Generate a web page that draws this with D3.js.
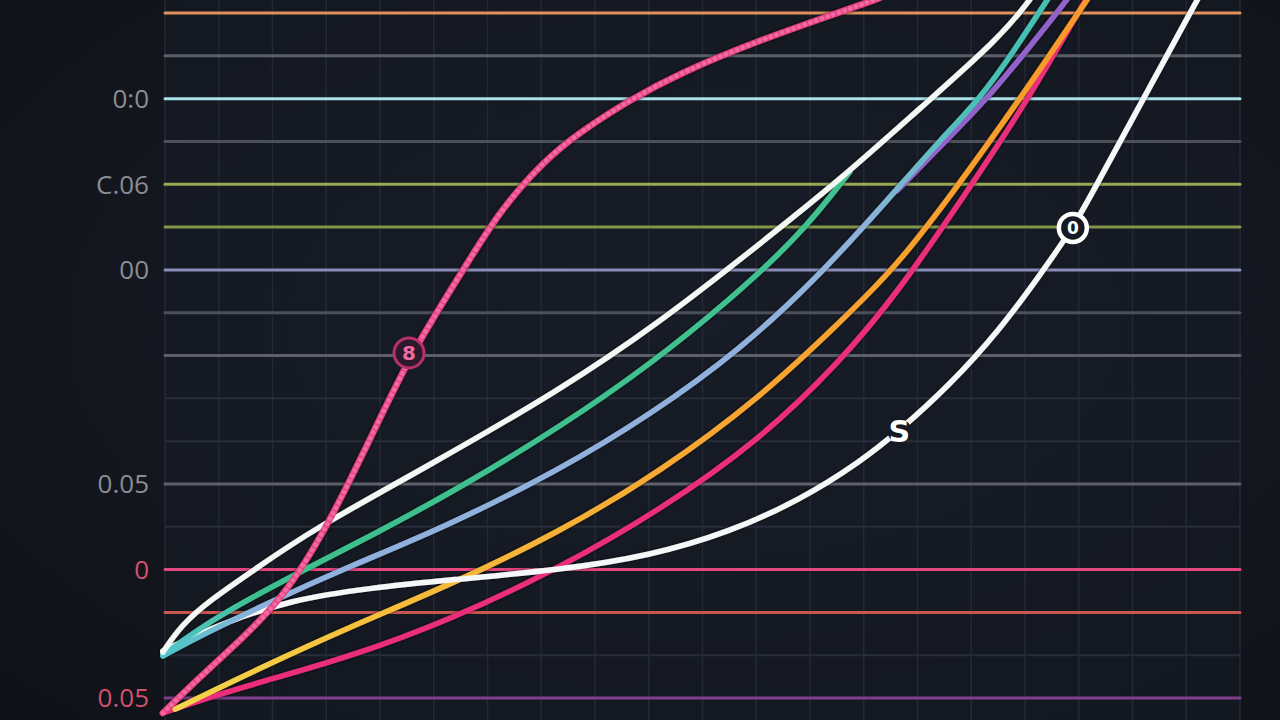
<!DOCTYPE html>
<html>
<head>
<meta charset="utf-8">
<script src="https://cdn.jsdelivr.net/npm/d3@7"></script>
<style>
  html, body { margin: 0; padding: 0; background: #111319; }
  svg { display: block; }
</style>
</head>
<body>
<svg id="chart" width="1280" height="720"></svg>
<script>
// ---------- data (grid units) ----------
const xGrid = d3.range(0, 21);
const refLines = [16, 15, 14, 13, 12, 11, 10, 9, 8, 5, 3, 2, 0];
const refColors = ["#e3915c", "#5b5f69", "#a9e1ea", "#4c505a", "#9aa854", "#82964a", "#8b8db9", "#4c505a", "#5d6069", "#5d6069", "#e5467f", "#c9574f", "#7e3f8e"];
const faintLines = [7, 6, 4, 1];
const yLabelValues = [14, 12, 10, 5, 3, 0];
const yLabelTexts = ["0:0", "C.06", "00", "0.05", "0", "0.05"];
const yLabelColors = ["#8a8d95", "#8a8d95", "#8a8d95", "#8a8d95", "#d3506f", "#d3506f"];

const whiteA = [[-0.04,1.07],[0.30,1.70],[0.84,2.29],[1.67,3.00],[2.70,3.90],[4.87,5.40],[7.35,7.19],[9.21,8.78],[10.88,10.42],[12.56,12.10],[14.05,13.78],[15.53,15.42],[16.09,16.30],[16.28,16.65]];
const green = [[-0.04,1.00],[0.65,1.64],[1.53,2.29],[2.51,2.94],[3.87,3.81],[5.49,4.91],[7.35,6.33],[9.02,7.78],[10.51,9.30],[11.81,10.80],[12.74,12.29]];
const blueTeal = [[-0.04,0.98],[0.65,1.45],[1.95,2.24],[3.44,3.08],[5.17,3.97],[7.35,5.33],[9.02,6.61],[10.70,8.13],[12.19,9.88],[13.49,11.70],[14.42,13.03],[15.16,13.99],[15.81,15.14],[16.41,16.30],[16.56,16.58]];
const purple = [[13.62,11.85],[14.51,12.99],[15.29,13.99],[16.09,15.21],[16.78,16.30],[16.93,16.58]];
const orange = [[0.19,-0.26],[0.47,-0.09],[1.77,0.70],[3.44,1.66],[5.30,2.64],[7.35,3.88],[9.21,5.28],[11.07,7.01],[12.56,8.78],[13.58,10.04],[14.60,11.70],[15.91,13.99],[17.15,16.30],[17.30,16.58]];
const pinkSolid = [[-0.04,-0.35],[0.65,-0.05],[1.77,0.37],[3.44,0.96],[5.30,1.82],[7.35,3.04],[9.21,4.39],[11.07,6.03],[12.56,7.85],[13.67,9.53],[14.85,11.70],[16.00,13.85],[17.12,16.30],[17.27,16.58]];
const pinkDotted = [[-0.04,-0.35],[0.65,0.49],[1.40,1.35],[2.20,2.34],[3.01,3.97],[3.81,6.03],[4.56,8.01],[5.43,9.76],[6.23,11.40],[7.07,12.57],[7.72,13.22],[8.65,13.97],[9.58,14.60],[11.07,15.37],[12.56,16.02],[13.30,16.35]];
const whiteB = [[-0.04,1.10],[1.02,1.73],[2.33,2.29],[3.81,2.57],[5.30,2.76],[7.35,2.99],[9.02,3.32],[10.51,3.88],[11.81,4.62],[12.93,5.51],[13.66,6.24],[14.60,7.31],[15.53,8.60],[16.28,9.88],[16.89,10.98],[17.21,11.70],[18.20,13.99],[19.20,16.30],[19.33,16.58]];
const markers = [
  {x: 4.54, y: 8.06, t: "8", kind: "pink"},
  {x: 13.66, y: 6.24, t: "S", kind: "white"},
  {x: 16.89, y: 10.98, t: "0", kind: "ring"}
];

// ---------- scales ----------
const svg = d3.select("#chart");
const x = d3.scaleLinear().domain([0, 20]).range([165, 1240]);
const y = d3.scaleLinear().domain([0, 16]).range([698, 13]);

const defs = svg.append("defs");
const bg = defs.append("radialGradient").attr("id", "bg").attr("cx", "55%").attr("cy", "45%").attr("r", "75%");
bg.append("stop").attr("offset", "0%").attr("stop-color", "#1a1e29");
bg.append("stop").attr("offset", "100%").attr("stop-color", "#101218");

function grad(id, stops) {
  const g = defs.append("linearGradient").attr("id", id).attr("gradientUnits", "userSpaceOnUse")
    .attr("x1", x(0)).attr("x2", x(17.5)).attr("y1", 0).attr("y2", 0);
  stops.forEach(s => g.append("stop").attr("offset", s[0]).attr("stop-color", s[1]));
}
grad("gGreen", [[0, "#55c6cf"], [0.10, "#3dbf8d"], [1, "#42c391"]]);
grad("gBlue", [[0, "#4cc5c7"], [0.10, "#8fb1dd"], [0.74, "#90b1dc"], [0.86, "#49c0b5"], [1, "#3fbfae"]]);
grad("gOrange", [[0, "#f3d64c"], [0.25, "#f6bc3a"], [0.6, "#f6a532"], [1, "#f79a2a"]]);

const shadow = defs.append("filter").attr("id", "sh").attr("x", "-5%").attr("y", "-5%").attr("width", "110%").attr("height", "110%");
shadow.append("feDropShadow").attr("dx", 0).attr("dy", 0).attr("stdDeviation", 1.5).attr("flood-color", "#000").attr("flood-opacity", 0.8);

svg.append("rect").attr("width", 1280).attr("height", 720).attr("fill", "url(#bg)");
svg.append("rect").attr("x", x(0)).attr("y", 0).attr("width", x(20) - x(0)).attr("height", 720).attr("fill", "#161a24").attr("opacity", 0.6);

// vertical grid
svg.append("g").selectAll("line").data(xGrid).join("line")
  .attr("x1", d => x(d)).attr("x2", d => x(d)).attr("y1", 0).attr("y2", 720)
  .attr("stroke", "#232835").attr("stroke-width", 1.5);

// faint horizontal grid
svg.append("g").selectAll("line").data(faintLines).join("line")
  .attr("x1", x(0)).attr("x2", x(20)).attr("y1", d => y(d)).attr("y2", d => y(d))
  .attr("stroke", "#282d3a").attr("stroke-width", 2);

// reference lines
svg.append("g").selectAll("line").data(refLines).join("line")
  .attr("x1", x(0)).attr("x2", x(20)).attr("y1", d => y(d)).attr("y2", d => y(d))
  .attr("stroke", (d, i) => refColors[i]).attr("stroke-width", 3).attr("stroke-linecap", "round");

// y labels
svg.append("g").selectAll("text").data(yLabelValues).join("text")
  .attr("x", 149).attr("y", d => y(d)).attr("dy", "0.36em")
  .attr("text-anchor", "end").attr("font-family", "Open Sans, sans-serif").attr("font-size", 26)
  .attr("font-weight", 500)
  .attr("fill", (d, i) => yLabelColors[i]).text((d, i) => yLabelTexts[i]);

// curves
const line = d3.line().x(d => x(d[0])).y(d => y(d[1])).curve(d3.curveBasis);
const g = svg.append("g").attr("filter", "url(#sh)").attr("fill", "none").attr("stroke-linecap", "round");
const W = 5.5;
g.append("path").attr("d", line(pinkSolid)).attr("stroke", "#ea2f7a").attr("stroke-width", W);
g.append("path").attr("d", line(orange)).attr("stroke", "url(#gOrange)").attr("stroke-width", W);
g.append("path").attr("d", line(whiteB)).attr("stroke", "#f6f7f8").attr("stroke-width", W);
g.append("path").attr("d", line(purple)).attr("stroke", "#9262cb").attr("stroke-width", W);
g.append("path").attr("d", line(blueTeal)).attr("stroke", "url(#gBlue)").attr("stroke-width", W);
g.append("path").attr("d", line(green)).attr("stroke", "url(#gGreen)").attr("stroke-width", W);
g.append("path").attr("d", line(whiteA)).attr("stroke", "#f4f8f4").attr("stroke-width", W);
g.append("path").attr("d", line(pinkDotted)).attr("stroke", "#e2407f").attr("stroke-width", 6.5);
g.append("path").attr("d", line(pinkDotted)).attr("stroke", "#f26aa2").attr("stroke-width", 4.5)
  .attr("stroke-dasharray", "0.5 5.5");

// markers
const mg = svg.append("g");
markers.forEach(m => {
  const cx = x(m.x), cy = y(m.y);
  if (m.kind === "pink") {
    mg.append("circle").attr("cx", cx).attr("cy", cy).attr("r", 15)
      .attr("fill", "#2a1a2c").attr("stroke", "#b8306a").attr("stroke-width", 3);
    mg.append("text").attr("x", cx).attr("y", cy).attr("dy", "0.36em").attr("text-anchor", "middle")
      .attr("font-family", "DejaVu Sans, sans-serif").attr("font-weight", "bold").attr("font-size", 20)
      .attr("fill", "#f06aa2").text(m.t);
  } else if (m.kind === "white") {
    mg.append("circle").attr("cx", cx).attr("cy", cy).attr("r", 12).attr("fill", "#161a24");
    mg.append("text").attr("x", cx).attr("y", cy).attr("dy", "0.36em").attr("text-anchor", "middle")
      .attr("font-family", "DejaVu Sans, sans-serif").attr("font-weight", "bold").attr("font-size", 30)
      .attr("fill", "#ffffff").text(m.t);
  } else {
    mg.append("circle").attr("cx", cx).attr("cy", cy).attr("r", 14)
      .attr("fill", "#161a24").attr("stroke", "#ffffff").attr("stroke-width", 4.5);
    mg.append("text").attr("x", cx).attr("y", cy).attr("dy", "0.36em").attr("text-anchor", "middle")
      .attr("font-family", "DejaVu Sans, sans-serif").attr("font-weight", "bold").attr("font-size", 17)
      .attr("fill", "#ffffff").text(m.t);
  }
});
</script>
</body>
</html>
